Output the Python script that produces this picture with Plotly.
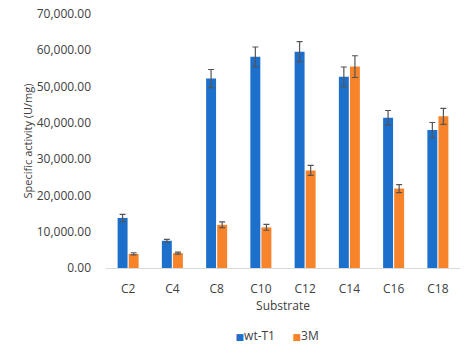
import plotly.graph_objects as go

categories = ["C2", "C4", "C8", "C10", "C12", "C14", "C16", "C18"]
wt_t1 = [13800, 7500, 52200, 58200, 59600, 52700, 41400, 38000]
wt_t1_err = [1000, 400, 2500, 2700, 2800, 2700, 2000, 2100]
m3 = [3900, 4100, 11900, 11200, 26900, 55500, 21900, 41800]
m3_err = [300, 250, 800, 800, 1400, 3000, 1100, 2200]
y_ticks = [0, 10000, 20000, 30000, 40000, 50000, 60000, 70000]
series_names = ["wt-T1", "3M"]
series_colors = ["#1C6FCB", "#F7832B"]
legend_widths = [12, 30]

font_family = "Open Sans, Noto Sans, DejaVu Sans, sans-serif"
err_style = dict(type="data", thickness=1.2, width=3, color="#555555")

fig = go.Figure()
for name, vals, errs, col in zip(series_names, [wt_t1, m3], [wt_t1_err, m3_err], series_colors):
    fig.add_trace(go.Bar(name=name, x=categories, y=vals, showlegend=False,
                         error_y=dict(array=errs, **err_style),
                         marker=dict(color=col, line=dict(width=0))))
# legend entries: small coloured square glyph right before the name
for name, col, lw in zip(series_names, series_colors, legend_widths):
    fig.add_trace(go.Scatter(
        name=f'<span style="color:{col};font-size:9px">■</span>{name}',
        x=[None], y=[None], mode="markers", legendwidth=lw,
        marker=dict(symbol="square", size=1, color="rgba(0,0,0,0)"),
        showlegend=True))

fig.update_layout(
    width=474, height=360,
    margin=dict(l=106, r=14, t=14, b=91),
    paper_bgcolor="white", plot_bgcolor="white",
    barmode="group", bargap=0.5, bargroupgap=0.1,
    font=dict(family=font_family, size=12, color="#404040"),
    showlegend=True,
    legend=dict(orientation="h", x=0.253, xanchor="left", y=-0.259, yanchor="middle",
                font=dict(size=12, color="#404040"), itemwidth=30,
                traceorder="normal", tracegroupgap=0),
    xaxis=dict(showline=True, linecolor="#D9D9D9", linewidth=1, ticks="",
               showgrid=False, tickfont=dict(size=12), automargin=False,
               ticklabelstandoff=10,
               title=dict(text="Substrate", font=dict(size=12), standoff=4)),
    yaxis=dict(range=[0, 70000], tickvals=y_ticks,
               ticktext=[f"{v:,.2f}" for v in y_ticks],
               showgrid=False, zeroline=False, showline=False, ticks="",
               tickfont=dict(size=12), automargin=False, ticklabelstandoff=14,
               title=dict(text="Specific activity (U/mg)", font=dict(size=11), standoff=1)),
)

fig.write_html("out.html", config={"displayModeBar": False},
               post_script="document.body.style.margin='0';")
